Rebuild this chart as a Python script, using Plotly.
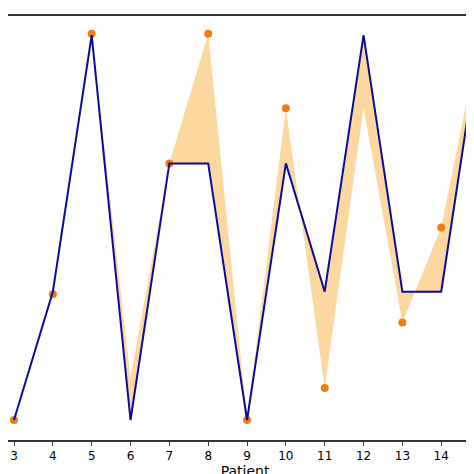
import plotly.graph_objects as go

patients = [3, 4, 5, 6, 7, 8, 9, 10, 11, 12, 13, 14, 15]
actual = [1, 2, 4, 1, 3, 3, 1, 3, 2, 4, 2, 2, 4]
predicted = [1, 1.98, 4.01, 1.33, 3.0, 4.01, 1.0, 3.43, 1.25, 3.43, 1.76, 2.5, 4.0]
dot_patients = [3, 4, 5, 7, 8, 9, 10, 11, 13, 14, 15]
dot_values = [1, 1.98, 4.01, 3.0, 4.01, 1.0, 3.43, 1.25, 1.76, 2.5, 4.0]

fig = go.Figure()
fig.add_trace(go.Scatter(x=patients, y=actual, mode="lines", line=dict(width=0),
                         hoverinfo="skip", showlegend=False, cliponaxis=False))
fig.add_trace(go.Scatter(x=patients, y=predicted, mode="lines", line=dict(width=0),
                         fill="tonexty", fillcolor="rgba(252,215,160,1)", showlegend=False))
fig.add_trace(go.Scatter(x=dot_patients, y=dot_values, mode="markers",
                         marker=dict(color="#f07c12", size=8), showlegend=False))
fig.add_trace(go.Scatter(x=patients, y=actual, mode="lines",
                         line=dict(color="#0b0b9a", width=2), showlegend=False))

fig.update_layout(
    width=474, height=474,
    margin=dict(l=0, r=0, t=8, b=42, autoexpand=False),
    plot_bgcolor="white", paper_bgcolor="white",
    font=dict(family="DejaVu Sans", size=12, color="black"),
)
fig.update_xaxes(range=[2.845, 15.05], tickvals=patients, showgrid=False, zeroline=False,
                 showline=True, linecolor="#333", linewidth=1.5, mirror=True, automargin=False,
                 ticks="outside", ticklen=4, title=dict(text="Patient", standoff=0))
fig.update_yaxes(range=[0.844, 4.149], showgrid=False, zeroline=False, automargin=False,
                 showticklabels=False, showline=False)
fig.write_html("out.html")
